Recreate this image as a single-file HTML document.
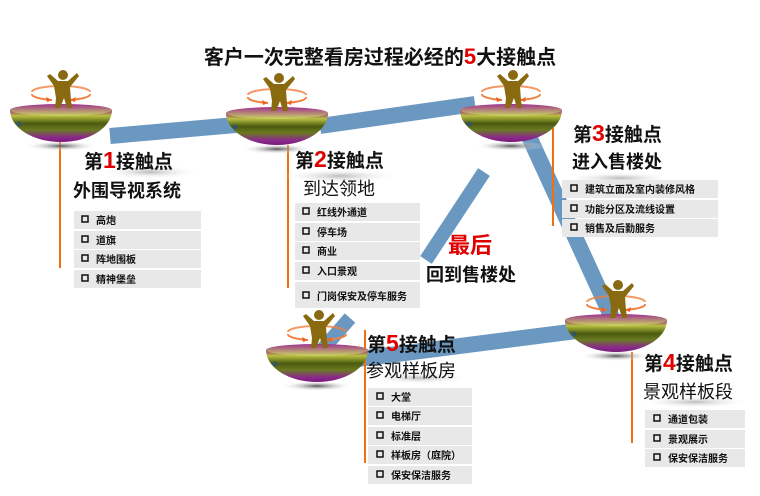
<!DOCTYPE html>
<html><head><meta charset="utf-8"><style>
html,body{margin:0;padding:0;background:#fff;}
svg{display:block;}
text{font-family:"Liberation Sans","Noto Sans CJK SC",sans-serif;}
.b{font-weight:bold;}
.it{font-size:10px;font-weight:bold;fill:#111;}
</style></head><body>
<svg width="760" height="496" viewBox="0 0 760 496" xmlns="http://www.w3.org/2000/svg">
<defs>
<linearGradient id="bowl" x1="0" y1="0" x2="0" y2="1">
<stop offset="0" stop-color="#9a2a8a"/>
<stop offset="0.18" stop-color="#b8c040"/>
<stop offset="0.42" stop-color="#4a5a10"/>
<stop offset="0.62" stop-color="#6a7a20"/>
<stop offset="0.85" stop-color="#8a2a8a"/>
<stop offset="1" stop-color="#7a1a7a"/>
</linearGradient>
<linearGradient id="rim" x1="0" y1="0" x2="0" y2="1">
<stop offset="0" stop-color="#a03090"/>
<stop offset="1" stop-color="#c8d860"/>
</linearGradient>
<radialGradient id="sh"><stop offset="0" stop-color="#555"/><stop offset="1" stop-color="#fff" stop-opacity="0"/></radialGradient>
<radialGradient id="sh2"><stop offset="0" stop-color="#bbb"/><stop offset="1" stop-color="#fff" stop-opacity="0"/></radialGradient>
<g id="bw">
<ellipse cx="51" cy="46" rx="36" ry="5" fill="url(#sh)"/>
<path d="M0 10 A51 32 0 0 0 102 10 Z" fill="url(#bowl)"/>
<ellipse cx="51" cy="10" rx="51" ry="6" fill="url(#rim)"/>
<circle cx="9" cy="24" r="2.5" fill="#356"/>
<path d="M22 -8 A29 6 0 0 1 80 -8" fill="none" stroke="#f08040" stroke-width="2" opacity="0.8"/>
<path d="M22 -6 A29 6 0 0 0 42 0" fill="none" stroke="#f08040" stroke-width="2"/>
<path d="M80 -6 A29 6 0 0 1 60 0" fill="none" stroke="#f08040" stroke-width="2"/>
<path d="M42 0 l-6 -3 l1 5z M60 0 l6 -3 l-1 5z" fill="#f06020"/>
<g fill="#8a6a10">
<circle cx="53" cy="-25" r="5"/>
<path d="M44 -14 L37 -24 L40 -26 L48 -19 L58 -19 L67 -27 L69 -24 L60 -13 L61 0 L62 8 L57 8 L54 -2 L50 8 L45 8 L46 -2 Z"/>
</g>
</g>
</defs>
<text x="380" y="64" text-anchor="middle" class="b" font-size="20" fill="#111">客户一次完整看房过程必经的<tspan fill="#e00000" font-size="22">5</tspan>大接触点</text>
<g stroke-linecap="butt" fill="none" stroke="#6a98c0">
<path d="M110 136 L270 122" stroke-width="16"/>
<path d="M320 126 L475 104" stroke-width="16"/>
<path d="M526 130 L614 322" stroke-width="16"/>
<path d="M585 330 L335 362" stroke-width="16"/>
<path d="M484 172 L426 260" stroke-width="14"/>
<path d="M350 318 L322 350" stroke-width="14"/>
</g>
<g stroke="#f07010" stroke-width="2">
<line x1="60" y1="142" x2="60" y2="268"/>
<line x1="288" y1="145" x2="288" y2="288"/>
<line x1="553" y1="128" x2="553" y2="226"/>
<line x1="365" y1="330" x2="365" y2="463"/>
<line x1="632" y1="352" x2="632" y2="443"/>
</g>
<use href="#bw" x="10" y="100"/>
<use href="#bw" x="226" y="103"/>
<use href="#bw" x="460" y="100"/>
<use href="#bw" x="565" y="310"/>
<use href="#bw" x="266" y="340"/>
<ellipse cx="150" cy="172" rx="50" ry="7" fill="url(#sh2)"/>
<ellipse cx="340" cy="176" rx="60" ry="7" fill="url(#sh2)"/>
<ellipse cx="620" cy="178" rx="55" ry="6" fill="url(#sh2)"/>
<ellipse cx="420" cy="378" rx="50" ry="6" fill="url(#sh2)"/>
<ellipse cx="695" cy="402" rx="55" ry="6" fill="url(#sh2)"/>
<text x="84" y="168" class="b" font-size="19" fill="#111">第<tspan fill="#e00000" font-size="23">1</tspan>接触点</text>
<text x="73" y="197" class="b" font-size="18" fill="#111">外围导视系统</text>
<text x="295" y="167" class="b" font-size="19" fill="#111">第<tspan fill="#e00000" font-size="23">2</tspan>接触点</text>
<text x="303" y="195" font-size="18" fill="#111">到达领地</text>
<text x="573" y="141" class="b" font-size="19" fill="#111">第<tspan fill="#e00000" font-size="23">3</tspan>接触点</text>
<text x="572" y="168" class="b" font-size="18" fill="#111">进入售楼处</text>
<text x="448" y="253" class="b" font-size="22" fill="#e00000">最后</text>
<text x="426" y="281" class="b" font-size="18" fill="#111">回到售楼处</text>
<text x="367" y="351" class="b" font-size="19" fill="#111">第<tspan fill="#e00000" font-size="23">5</tspan>接触点</text>
<text x="366" y="377" font-size="18" fill="#111">参观样板房</text>
<text x="644" y="370" class="b" font-size="19" fill="#111">第<tspan fill="#e00000" font-size="23">4</tspan>接触点</text>
<text x="643" y="398" font-size="18" fill="#111">景观样板段</text>
<g fill="#e8e8e8">
<rect x="74" y="211" width="127" height="18"/><rect x="74" y="231" width="127" height="18"/><rect x="74" y="250" width="127" height="18"/><rect x="74" y="270" width="127" height="18"/>
<rect x="295" y="203" width="125" height="18"/><rect x="295" y="223" width="125" height="18"/><rect x="295" y="242" width="125" height="18"/><rect x="295" y="262" width="125" height="18"/><rect x="295" y="282" width="125" height="26"/>
<rect x="562" y="180" width="156" height="18"/><rect x="562" y="200" width="156" height="18"/><rect x="562" y="219" width="156" height="18"/>
<rect x="368" y="388" width="104" height="18"/><rect x="368" y="407" width="104" height="18"/><rect x="368" y="427" width="104" height="18"/><rect x="368" y="446" width="104" height="18"/><rect x="368" y="466" width="104" height="18"/>
<rect x="645" y="410" width="100" height="18"/><rect x="645" y="430" width="100" height="18"/><rect x="645" y="449" width="100" height="18"/>
</g>
<g fill="none" stroke="#111" stroke-width="1.5">
<rect x="82" y="216" width="6" height="6"/><rect x="82" y="236" width="6" height="6"/><rect x="82" y="255" width="6" height="6"/><rect x="82" y="275" width="6" height="6"/>
<rect x="303" y="208" width="6" height="6"/><rect x="303" y="228" width="6" height="6"/><rect x="303" y="247" width="6" height="6"/><rect x="303" y="267" width="6" height="6"/><rect x="303" y="292" width="6" height="6"/>
<rect x="571" y="185" width="6" height="6"/><rect x="571" y="205" width="6" height="6"/><rect x="571" y="224" width="6" height="6"/>
<rect x="377" y="393" width="6" height="6"/><rect x="377" y="412" width="6" height="6"/><rect x="377" y="432" width="6" height="6"/><rect x="377" y="451" width="6" height="6"/><rect x="377" y="471" width="6" height="6"/>
<rect x="654" y="415" width="6" height="6"/><rect x="654" y="435" width="6" height="6"/><rect x="654" y="454" width="6" height="6"/>
</g>
<g class="it">
<text x="96" y="224">高炮</text><text x="96" y="244">道旗</text><text x="96" y="263">阵地围板</text><text x="96" y="283">精神堡垒</text>
<text x="317" y="216">红线外通道</text><text x="317" y="236">停车场</text><text x="317" y="255">商业</text><text x="317" y="275">入口景观</text><text x="317" y="300">门岗保安及停车服务</text>
<text x="585" y="193">建筑立面及室内装修风格</text><text x="585" y="213">功能分区及流线设置</text><text x="585" y="232">销售及后勤服务</text>
<text x="391" y="401">大堂</text><text x="391" y="420">电梯厅</text><text x="391" y="440">标准层</text><text x="391" y="459">样板房（庭院）</text><text x="391" y="479">保安保洁服务</text>
<text x="668" y="423">通道包装</text><text x="668" y="443">景观展示</text><text x="668" y="462">保安保洁服务</text>
</g>
</svg>
</body></html>
